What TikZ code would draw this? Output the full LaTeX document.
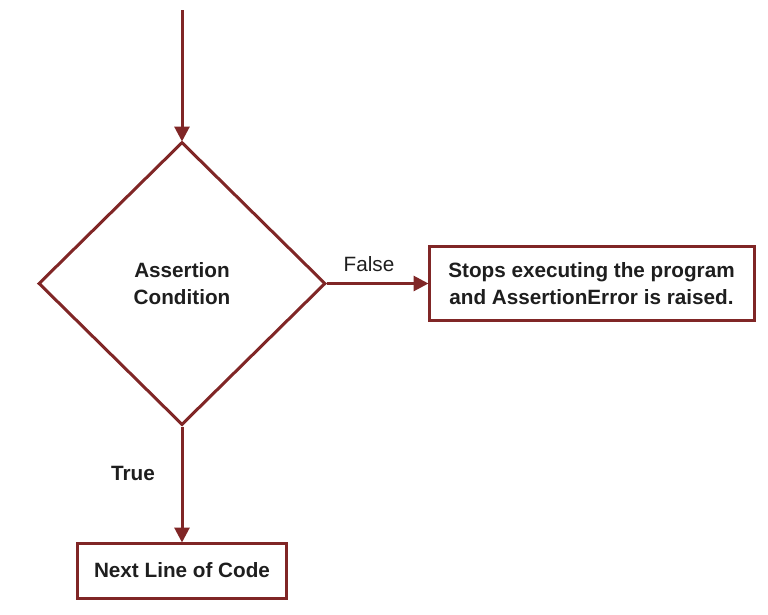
\documentclass[tikz,border=0pt]{standalone}
\usepackage{fontspec}
\setmainfont{Liberation Sans}
\usetikzlibrary{shapes.geometric,arrows.meta}
\definecolor{rahmen}{RGB}{128,38,38}
\definecolor{schrift}{RGB}{30,30,30}
\def\gross{\fontsize{20.7}{27.5}\selectfont}

\begin{document}
\begin{tikzpicture}[x=1pt,y=-1pt,>={Triangle[length=15pt,width=15pt]},
	linie/.style={draw=rahmen,line width=3pt},
	kasten/.style={linie,rectangle,inner sep=0pt,align=center,
		font=\gross\bfseries,text=schrift},
	raute/.style={linie,diamond,inner sep=0pt,minimum width=287pt,
		minimum height=283pt,align=center,font=\gross\bfseries,text=schrift},
	marke/.style={font=\gross,text=schrift}]
\useasboundingbox (0,0) rectangle (768,614);
	\coordinate (start) at (182,10);
	\node[raute] (bedingung) at (182,283.5) {Assertion\\Condition};
	\node[kasten,minimum width=325pt,minimum height=74pt] (fehler) at (591.5,283.5)
		{Stops executing the program\\and AssertionError is raised.};
	\node[kasten,minimum width=209pt,minimum height=55pt] (weiter) at (182,570.5)
		{Next Line of Code};
	\draw[linie,->,shorten >=-1pt] (start) -- (bedingung.north);
	\draw[linie,->,shorten >=-1pt] (bedingung.east) -- (fehler.west);
	\draw[linie,->,shorten >=-1pt] (bedingung.south) -- (weiter.north);
	\node[marke] (falsch) at (369,264) {False};
	\node[marke,font=\gross\bfseries] (wahr) at (133,473) {True};
\end{tikzpicture}
\end{document}
